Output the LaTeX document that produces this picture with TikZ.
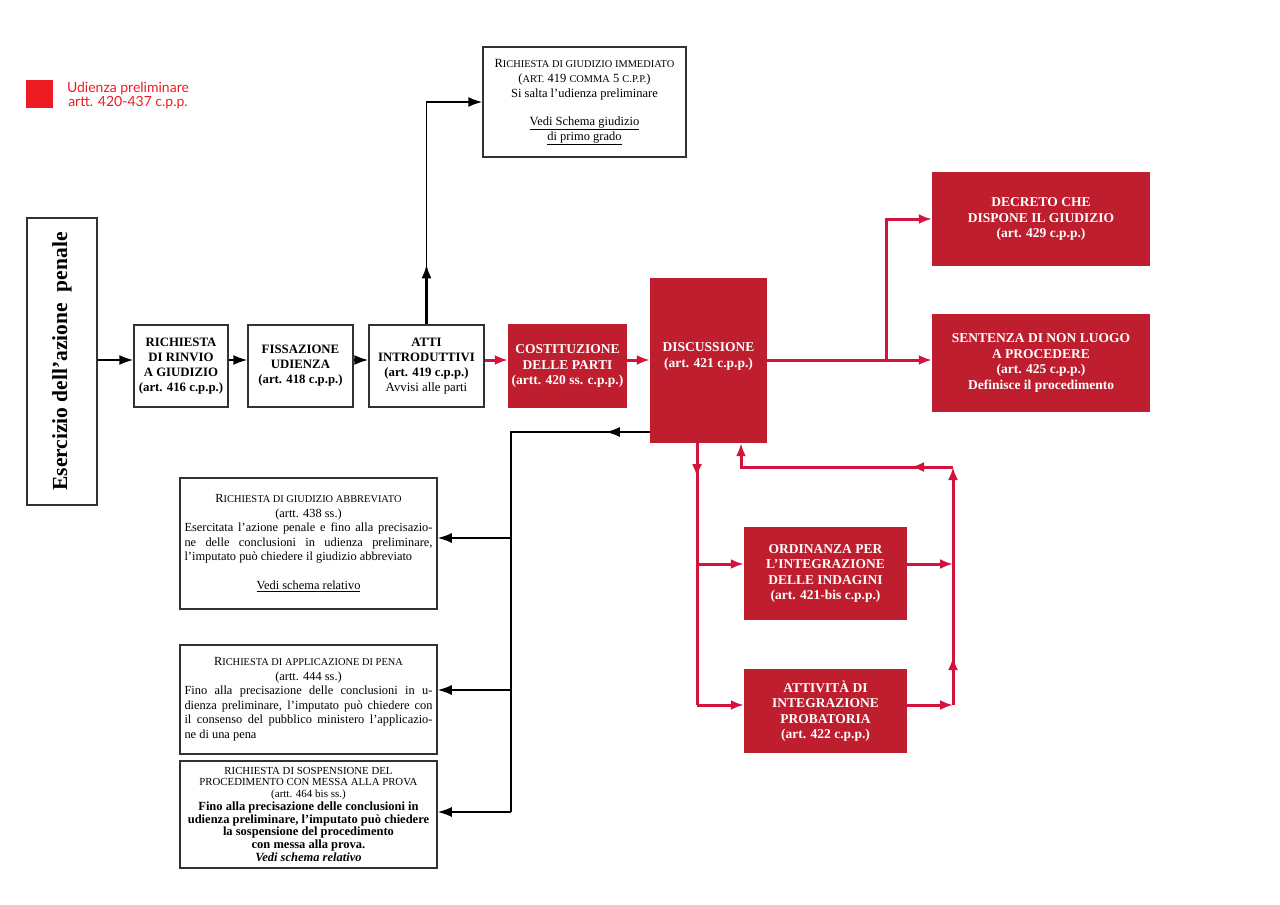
\documentclass[tikz,border=0pt]{standalone}
\usepackage{fontspec}
\setmainfont{Liberation Serif}
\newfontfamily\legendfont{Lato}
\usetikzlibrary{arrows.meta,calc}
\definecolor{boxred}{RGB}{190,30,45}
\definecolor{linered}{RGB}{212,18,62}
\definecolor{legred}{RGB}{237,28,36}
\definecolor{boxline}{RGB}{50,50,50}
\newcommand{\scs}[1]{{\fontsize{10.4}{10}\selectfont #1}}
\begin{document}
\begin{tikzpicture}[x=1pt,y=-1pt,
  bbox/.style={draw=boxline, line width=1.5pt, fill=white, align=center, inner sep=0pt,
    font=\fontsize{12.8}{15}\selectfont\bfseries},
  rbox/.style={fill=boxred, text=white, align=center, inner sep=0pt,
    font=\fontsize{13.5}{15.5}\selectfont\bfseries},
  rtext/.style={text=white, align=center, inner sep=0pt, font=\fontsize{13.5}{15.5}\selectfont\bfseries},
  sz/.style 2 args={minimum width=#1pt, minimum height=#2pt},
  bline/.style={draw=black, line width=1.6pt},
  barr/.style={bline, -{Latex[length=14pt,width=10pt]}},
  rline/.style={draw=linered, line width=3pt},
  rarr/.style={rline, -{Latex[length=13pt,width=10pt]}}
]
\useasboundingbox (0,0) rectangle (1280,905);

% legend
\node[fill=legred, sz={27}{28}, inner sep=0pt] (legsq) at (39.5,94) {};
\node[text=legred, align=center, inner sep=0pt, font=\legendfont\fontsize{14}{14}\selectfont] (legt) at (128,96)
  {Udienza preliminare\\artt. 420-437 c.p.p.};

% left column
\node[bbox, sz={70}{287}] (esercizio) at (62,361.5) {};
\node[rotate=90, inner sep=0pt, font=\fontsize{21.5}{21.5}\selectfont\bfseries] (esercizio-t) at (esercizio.center)
  {Esercizio dell’azione\ \ penale};

\node[bbox, sz={94}{82}] (rich) at (181,366) {RICHIESTA\\DI RINVIO\\A GIUDIZIO\\(art. 416 c.p.p.)};
\node[bbox, sz={105}{82}] (fiss) at (300.5,366) {FISSAZIONE\\UDIENZA\\(art. 418 c.p.p.)};
\node[bbox, sz={115}{82}] (atti) at (426.5,366) {ATTI\\INTRODUTTIVI\\(art. 419 c.p.p.)\\{\mdseries Avvisi alle parti}};

\node[rbox, sz={119}{84}] (cost) at (567.5,366) {COSTITUZIONE\\DELLE PARTI\\(artt. 420 ss. c.p.p.)};
\node[rbox, sz={117}{165}] (disc) at (708.5,360.5) {};
\node[rtext] (disc-t) at ($(disc.center)+(0,-4)$) {DISCUSSIONE\\(art. 421 c.p.p.)};

% top box
\node[bbox, sz={203}{110}, font=\fontsize{12.5}{15}\selectfont] (top) at (584.5,102)
  {\parbox{198pt}{\centering R\scs{ICHIESTA DI GIUDIZIO IMMEDIATO}\\
   (\scs{ART.} 419 \scs{COMMA} 5 \scs{C.P.P.})\\
   Si salta l’udienza preliminare\\[13pt]
   \underline{Vedi Schema giudizio}\\
   \underline{di primo grado}}};

% right red boxes
\node[rbox, sz={218}{94}] (decr) at (1041,219) {DECRETO CHE\\DISPONE IL GIUDIZIO\\(art. 429 c.p.p.)};
\node[rbox, sz={218}{98}] (sent) at (1041,363) {SENTENZA DI NON LUOGO\\A PROCEDERE\\(art. 425 c.p.p.)\\Definisce il procedimento};
\node[rbox, sz={163}{93}] (ord) at (825.5,573.5) {ORDINANZA PER\\L’INTEGRAZIONE\\DELLE INDAGINI\\(art. 421-bis c.p.p.)};
\node[rbox, sz={163}{84}] (att) at (825.5,711) {ATTIVITÀ DI\\INTEGRAZIONE\\PROBATORIA\\(art. 422 c.p.p.)};

% bottom-left boxes
\node[bbox, sz={257}{131}, font=\fontsize{12.4}{14.5}\selectfont] (abbr) at (308.5,543.5)
  {\parbox{248pt}{{\centering R\scs{ICHIESTA DI GIUDIZIO ABBREVIATO}\\(artt. 438 ss.)\par}
   Esercitata l’azione penale e fino alla precisazio-\linebreak ne delle conclusioni in udienza preliminare,\linebreak l’imputato può chiedere il giudizio abbreviato\par
   {\centering\vspace{14.5pt}\underline{Vedi schema relativo}\par}}};

\node[bbox, sz={257}{109}, font=\fontsize{12.4}{14.5}\selectfont] (appl) at (308.5,699.5)
  {\parbox{248pt}{{\centering R\scs{ICHIESTA DI APPLICAZIONE DI PENA}\\(artt. 444 ss.)\par}
   Fino alla precisazione delle conclusioni in u-\linebreak dienza preliminare, l’imputato può chiedere con\linebreak il consenso del pubblico ministero l’applicazio-\linebreak ne di una pena\par}};

\node[bbox, sz={257}{107}, font=\fontsize{10.8}{11.6}\selectfont\mdseries] (sosp) at (308.5,814.5)
  {\parbox{254pt}{\centering RICHIESTA DI SOSPENSIONE DEL\\ PROCEDIMENTO CON MESSA ALLA PROVA\\
   {\fontsize{11}{11.6}\selectfont (artt. 464 bis ss.)}\par
   \fontsize{12.5}{12.8}\selectfont\bfseries Fino alla precisazione delle conclusioni in\\
   udienza preliminare, l’imputato può chiedere\\
   la sospensione del procedimento\\
   con messa alla prova.\\
   \textit{Vedi schema relativo}\par}};

% helper coordinates
\coordinate (row) at (0,360);
\coordinate (r1) at (0,564);
\coordinate (r2) at (0,705);
\coordinate (dl) at (697,0);
\coordinate (rx) at (953,0);
\coordinate (fb) at (741,467);
\coordinate (lx) at (511,432);
\coordinate (b1) at (0,538);
\coordinate (b2) at (0,690);
\coordinate (b3) at (0,812);
\coordinate (jd) at (886,360);

% main row
\draw[barr] (esercizio.east |- row) -- (rich.west |- row);
\draw[barr] (rich.east |- row) -- (fiss.west |- row);
\draw[barr] (fiss.east |- row) -- (atti.west |- row);
\draw[rarr] (atti.east |- row) -- (cost.west |- row);
\draw[rarr] (cost.east |- row) -- (disc.west |- row);

% to top box
\draw[barr, line width=2.6pt] (atti.north) -- ++(0,-60);
\draw[barr] (atti.north) -- (atti.north |- top.west) -- (top.west);

% to decreto / sentenza
\draw[rarr] (disc.east |- row) -- (sent.west |- row);
\draw[rarr] (jd) -- (jd |- decr.west) -- (decr.west);

% down to ordinanza / attivita
\draw[rline] (disc.south -| dl) -- (dl |- r2);
\draw[rarr] (disc.south -| dl) -- ++(0,34);
\draw[rarr] (dl |- r1) -- (ord.west |- r1);
\draw[rarr] (dl |- r2) -- (att.west |- r2);

% loop back
\draw[rarr] (ord.east |- r1) -- (rx |- r1);
\draw[rarr] (att.east |- r2) -- (rx |- r2);
\draw[rarr] (rx |- r2) -- ++(0,-48);
\draw[rarr] (rx |- r2) -- (rx |- fb);
\draw[rarr] (rx |- fb) -- ++(-42,0);
\draw[rarr] (rx |- fb) -- (fb) -- (disc.south -| fb);

% left branch
\draw[barr] (disc.west |- lx) -- ++(-44,0);
\draw[bline] (disc.west |- lx) -- (lx) -- (lx |- b3);
\draw[barr] (lx |- b1) -- (abbr.east |- b1);
\draw[barr] (lx |- b2) -- (appl.east |- b2);
\draw[barr] (lx |- b3) -- (sosp.east |- b3);
\end{tikzpicture}
\end{document}
